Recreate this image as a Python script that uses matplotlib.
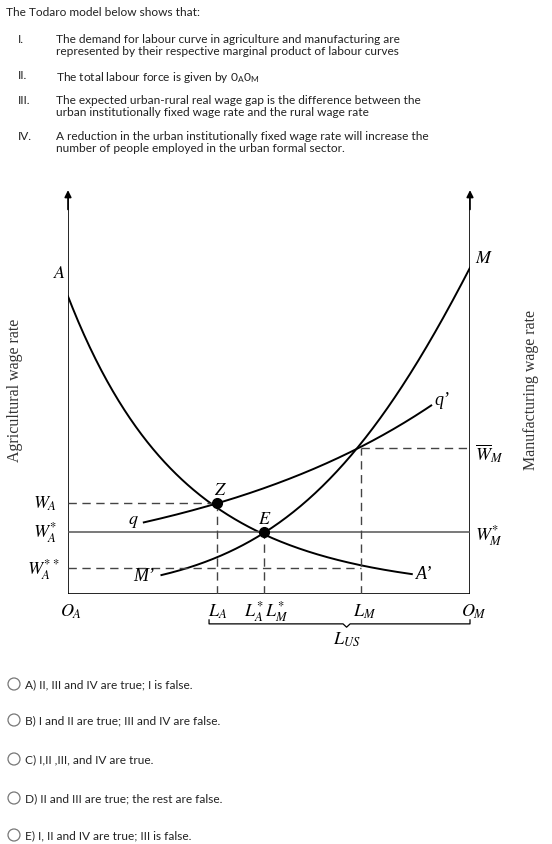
import numpy as np
import matplotlib.pyplot as plt

plt.rcParams['mathtext.fontset'] = 'stix'
plt.rcParams['font.family'] = ['Lato', 'DejaVu Sans']

# curve points (x: labour, y: wage), axis box 0..1140 x 0..1220
a_x = [0, 80, 210, 423, 557, 830, 975]
a_y = [970, 650, 450, 275, 188, 80, 62]
m_x = [265, 420, 557, 830, 1005, 1140]
m_y = [55, 115, 188, 440, 700, 1015]
q_x = [215, 423, 830, 1030]
q_y = [215, 275, 440, 570]

x_la, x_le, x_lm = 423, 557, 830
w_a, w_star, w_2star, w_m = 275, 188, 78, 440

question = "The Todaro model below shows that:"
items = [("I.", "The demand for labour curve in agriculture and manufacturing are\nrepresented by their respective marginal product of labour curves"),
         ("II.", "The total labour force is given by $\\mathregular{0_A0_M}$"),
         ("III.", "The expected urban-rural real wage gap is the difference between the\nurban institutionally fixed wage rate and the rural wage rate"),
         ("IV.", "A reduction in the urban institutionally fixed wage rate will increase the\nnumber of people employed in the urban formal sector.")]
item_y = [40, 76, 101, 137]
options = ["A) II, III and IV are true; I is false.",
           "B) I and II are true; III and IV are false.",
           "C) I,II ,III, and IV are true.",
           "D) II and III are true; the rest are false.",
           "E) I, II and IV are true; III is false."]
option_y = [685, 721, 760, 799, 836]

W, H = 552, 845
fig = plt.figure(figsize=(W / 100, H / 100), dpi=100)
bg = fig.add_axes([0, 0, 1, 1])
bg.set_xlim(0, W)
bg.set_ylim(H, 0)
bg.axis('off')

bg.text(6, 12, question, fontsize=8.6, va='center', color='#222222')
for (num, txt), y in zip(items, item_y):
    bg.text(18, y - 6, num, fontsize=8.6, va='top', color='#222222')
    bg.text(56, y - 6, txt, fontsize=8.6, va='top', color='#222222', linespacing=1.1)
for txt, y in zip(options, option_y):
    bg.add_patch(plt.Circle((14, y), 6, fill=False, ec='#777777', lw=0.9))
    bg.text(25, y, txt, fontsize=8.6, va='center', color='#222222')

serif = 'Liberation Serif'
bg.text(15, 390, "Agricultural wage rate", rotation=90, fontsize=11.5, family=serif,
        ha='center', va='center', color='#333333')
bg.text(531, 390, "Manufacturing wage rate", rotation=90, fontsize=11.5, family=serif,
        ha='center', va='center', color='#333333')

# diagram
ax = fig.add_axes([68 / W, (H - 595) / H, (470 - 68) / W, (595 - 190) / H])
ax.set_xlim(0, 1140)
ax.set_ylim(0, 1220)
ax.axis('off')

def smooth_log(xs, ys, deg):
    # fit in log space so the curves stay monotone
    c = np.polyfit(xs, np.log(ys), deg)
    xx = np.linspace(min(xs), max(xs), 300)
    return xx, np.exp(np.polyval(c, xx))

ax.plot(*smooth_log(a_x, a_y, 2), color='black', lw=1.4)
ax.plot(*smooth_log(m_x, m_y, 2), color='black', lw=1.4)
ax.plot(*smooth_log(q_x, q_y, 2), color='black', lw=1.4)

ax.plot([0, 0], [0, 1200], color='black', lw=1.2)
ax.plot([1140, 1140], [0, 1200], color='black', lw=1.2)
ax.plot([0, 1140], [0, 0], color='black', lw=1.2)
for x in (0, 1140):
    ax.annotate('', xy=(x, 1225), xytext=(x, 1150),
                arrowprops=dict(arrowstyle='-|>', color='black', lw=1.2), annotation_clip=False)

ax.plot([0, 1140], [w_star, w_star], color='#555555', lw=1.1)
dash = dict(color='#444444', lw=1.0, ls=(0, (6, 4)))
ax.plot([0, x_la], [w_a, w_a], **dash)
ax.plot([0, x_lm], [w_2star, w_2star], **dash)
ax.plot([x_lm, 1140], [w_m, w_m], **dash)
ax.plot([x_la, x_la], [0, w_a], **dash)
ax.plot([x_le, x_le], [0, w_star], **dash)
ax.plot([x_lm, x_lm], [0, w_m], **dash)

ax.plot([x_la, x_le], [w_a, w_star], 'o', color='black', ms=7)

mt = dict(fontsize=13, ha='center', va='center')
it = dict(fontsize=13, ha='center', va='center', family=serif, style='italic')
ax.text(-25, 970, '$A$', **mt)
ax.text(1180, 1015, '$M$', **mt)
ax.text(1010, 62, "A\u2019", **it)
ax.text(215, 55, "M\u2019", **it)
ax.text(185, 220, '$q$', **mt)
ax.text(1060, 585, "q\u2019", **it)
ax.text(x_la + 10, 315, '$Z$', **mt)
ax.text(x_le, 228, '$E$', **mt)
ax.text(-65, w_a, '$W_A$', **mt)
ax.text(-65, w_star, '$W_A^{*}$', **mt)
ax.text(-70, w_2star, '$W_A^{**}$', **mt)
ax.text(1195, w_m - 15, '$\\overline{W}_M$', **mt)
ax.text(1195, w_star - 10, '$W_M^{*}$', **mt)
ax.text(10, -50, '$O_A$', **mt)
ax.text(x_la, -50, '$L_A$', **mt)
ax.text(x_le + 5, -50, '$L_A^{*}\\,L_M^{*}$', **mt)
ax.text(x_lm + 10, -50, '$L_M$', **mt)
ax.text(1150, -50, '$O_M$', **mt)
ax.text(790, -135, '$L_{US}$', **mt)

# brace under L_A .. O_M
by = -90
ax.plot([400, 400, 780, 790, 800, 1140, 1140], [by + 12, by, by, by - 10, by, by, by + 12],
        color='black', lw=0.9, clip_on=False)

fig.savefig('out.png', dpi=100)
